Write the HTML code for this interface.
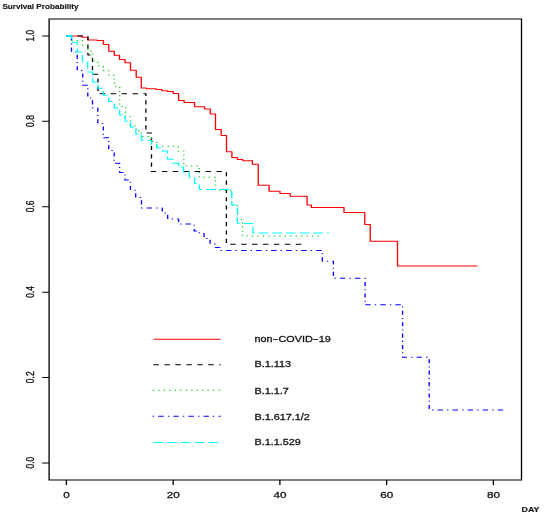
<!DOCTYPE html>
<html><head><meta charset="utf-8"><title>Survival Probability</title>
<style>
html,body{margin:0;padding:0;background:#fff;}
body{width:550px;height:515px;overflow:hidden;}
svg{display:block;}
text{fill:#161616;stroke:#161616;stroke-width:0.3px;}
</style></head>
<body>
<svg width="550" height="515" viewBox="0 0 550 515" font-family="'Liberation Sans', Arial, Helvetica, sans-serif">
<rect width="550" height="515" fill="#fff"/>
<g transform="scale(1.368,1.04)" fill="none" stroke-linecap="butt" stroke-linejoin="round">
<path d="M35.892,18.269H381.213V461.538H35.892Z" stroke="#000" stroke-width="0.96" stroke-linejoin="miter"/>
<path d="M35.892,445.192H30.775M35.892,363.058H30.775M35.892,280.923H30.775M35.892,198.788H30.775M35.892,116.654H30.775M35.892,34.519H30.775M48.538,461.538V466.346M126.572,461.538V466.346M204.605,461.538V466.346M282.639,461.538V466.346M360.673,461.538V466.346" stroke="#000" stroke-width="0.96"/>
<path d="M48.538,34.519H59.942V35.769H64.254V38.462H70.98V39.038H75.658V42.885H79.532V49.231H83.553V53.173H87.354V57.115H91.374V60.288H95.395V67.596H99.561V74.327H103.289V84.615H107.091V85.385H114.254V85.962H118.202V87.212H122.588V88.077H126.608V89.904H130.556V96.635H134.576V98.654H142.251V102.692H149.561V104.808H153.728V109.712H157.529V124.423H161.696V130.385H165.57V145.865H169.518V151.346H173.538V153.269H177.485V154.519H184.503V157.981H188.743V178.173H196.711V183.942H204.678V185.962H212.135V188.654H224.488V197.019H227.632V199.615H251.462V204.231H266.667V215.769H270.614V231.923H290.57V255.673H349.123" stroke="#ff0000" stroke-width="0.96"/>
<path d="M48.538,34.519H64.254V52.885H67.617V71.346H71.637V90.192H106.652V127.885H110.746V164.808H165.497V234.808H220.249" stroke="#000000" stroke-width="0.96" stroke-dasharray="4,4"/>
<path d="M48.538,34.519H52.485V39.038H60.307V43.462H64.254V49.038H67.617V58.942H71.564V63.269H75.512V67.788H79.532V72.404H83.626V82.981H87.5V102.404H91.74V111.923H95.249V121.154H99.342V125.962H103.363V131.25H110.746V136.154H114.62V140.577H130.336V145.192H134.357V159.519H145.614V170.481H157.456V182.885H169.371V197.115H173.611V211.058H177.266V226.923H233.918" stroke="#00cd00" stroke-width="0.96" stroke-dasharray="1,3"/>
<path d="M48.538,34.519H52.266V50.0H56.433V67.788H60.453V81.923H64.181V94.231H67.617V103.846H71.491V118.654H75.512V132.5H79.459V144.615H83.48V156.923H87.427V165.865H91.374V172.981H95.322V182.885H99.196V189.904H103.436V199.904H118.64V204.808H122.588V210.577H130.556V215.385H141.959V222.115H145.687V224.519H149.196V229.327H153.582V234.615H157.31V237.981H161.55V240.865H235.599V251.154H243.713V267.596H266.886V293.077H294.298V343.558H313.743V394.231H367.982" stroke="#0000ff" stroke-width="0.96" stroke-dasharray="1,3,4,3"/>
<path d="M48.538,34.519H52.485V40.577H56.506V49.904H60.307V59.615H64.108V69.327H67.69V78.942H71.637V84.904H75.585V91.538H79.459V97.596H83.626V103.75H87.427V110.481H91.447V116.635H95.395V122.308H99.342V129.038H103.436V135.192H110.746V138.942H114.547V142.404H118.494V145.192H122.442V153.173H126.316V156.923H130.556V160.577H134.137V165.288H138.377V170.865H142.251V176.442H145.76V182.308H169.444V197.115H173.611V214.808H184.942V224.038H240.351" stroke="#00ffff" stroke-width="0.96" stroke-dasharray="7,3"/>
<path d="M112.208,326.25H161.257" stroke="#ff0000" stroke-width="0.96"/>
<path d="M112.208,350.673H161.257" stroke="#000000" stroke-width="0.96" stroke-dasharray="4,4"/>
<path d="M111.696,375.288H161.257" stroke="#00cd00" stroke-width="0.96" stroke-dasharray="1,3"/>
<path d="M111.696,400.192H161.257" stroke="#0000ff" stroke-width="0.96" stroke-dasharray="1,3,4,3"/>
<path d="M112.208,425.385H161.257" stroke="#00ffff" stroke-width="0.96" stroke-dasharray="7,3"/>
<path d="M48.538,34.519H52.339" stroke="#00ffff" stroke-width="1.5"/>
</g>
<text transform="translate(2.4,8.8) scale(1.2,1.0)" font-size="6.8" text-anchor="start" font-weight="bold" style="stroke-width:0.15px">Survival Probability</text>
<text transform="translate(521.6,511.5) scale(1.34,1.03)" font-size="6.6" text-anchor="start" font-weight="bold" style="stroke-width:0.15px">DAY</text>
<text transform="translate(66.4,497.9) scale(1.3,1.03)" font-size="9.0" text-anchor="middle" font-weight="normal" >0</text>
<text transform="translate(173.15,497.9) scale(1.3,1.03)" font-size="9.0" text-anchor="middle" font-weight="normal" >20</text>
<text transform="translate(279.9,497.9) scale(1.3,1.03)" font-size="9.0" text-anchor="middle" font-weight="normal" >40</text>
<text transform="translate(386.65,497.9) scale(1.3,1.03)" font-size="9.0" text-anchor="middle" font-weight="normal" >60</text>
<text transform="translate(493.4,497.9) scale(1.3,1.03)" font-size="9.0" text-anchor="middle" font-weight="normal" >80</text>
<text transform="translate(33.5,462.7) scale(1.36,1.03) rotate(-90)" font-size="8.2" text-anchor="middle">0.0</text>
<text transform="translate(33.5,377.28) scale(1.36,1.03) rotate(-90)" font-size="8.2" text-anchor="middle">0.2</text>
<text transform="translate(33.5,291.85999999999996) scale(1.36,1.03) rotate(-90)" font-size="8.2" text-anchor="middle">0.4</text>
<text transform="translate(33.5,206.44) scale(1.36,1.03) rotate(-90)" font-size="8.2" text-anchor="middle">0.6</text>
<text transform="translate(33.5,121.01999999999994) scale(1.36,1.03) rotate(-90)" font-size="8.2" text-anchor="middle">0.8</text>
<text transform="translate(33.5,35.59999999999998) scale(1.36,1.03) rotate(-90)" font-size="8.2" text-anchor="middle">1.0</text>
<text transform="translate(254.5,342.0) scale(1.29,1.03)" font-size="8.4" text-anchor="start" font-weight="normal" >non<tspan textLength="4.6" lengthAdjust="spacingAndGlyphs">-</tspan>COVID<tspan textLength="4.6" lengthAdjust="spacingAndGlyphs">-</tspan>19</text>
<text transform="translate(254.5,367.3) scale(1.29,1.03)" font-size="8.4" text-anchor="start" font-weight="normal" >B.1.113</text>
<text transform="translate(254.5,393.6) scale(1.29,1.03)" font-size="8.4" text-anchor="start" font-weight="normal" >B.1.1.7</text>
<text transform="translate(254.5,419.6) scale(1.29,1.03)" font-size="8.4" text-anchor="start" font-weight="normal" >B.1.617.1/2</text>
<text transform="translate(254.5,444.6) scale(1.29,1.03)" font-size="8.4" text-anchor="start" font-weight="normal" >B.1.1.529</text>
</svg>
</body></html>
